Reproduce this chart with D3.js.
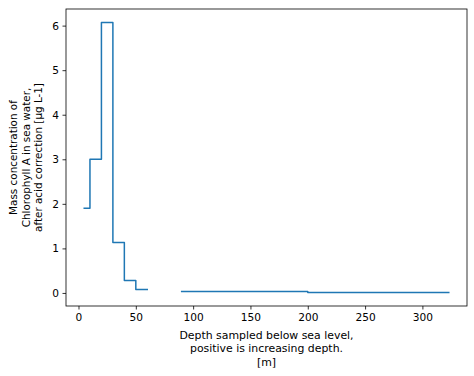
<!DOCTYPE html>
<html>
<head>
<meta charset="utf-8">
<script src="https://cdn.jsdelivr.net/npm/d3@7"></script>
<style>
  body { margin: 0; background: #fff; }
  text { font-family: "DejaVu Sans", sans-serif; fill: #000; }
</style>
</head>
<body>
<svg width="474" height="376"></svg>
<script>
// глубина отбора проб, м
const depth = [5, 10, 20, 30, 40, 50, 60, 90, 200, 323];
// хлорофилл A, мкг/л (null - нет данных)
const chl = [1.9, 3.0, 6.07, 1.13, 0.28, 0.08, null, 0.03, 0.01, 0.01];

const xTicks = [0, 50, 100, 150, 200, 250, 300];
const yTicks = [0, 1, 2, 3, 4, 5, 6];

const xLabel = ["Depth sampled below sea level,", "positive is increasing depth.", "[m]"];
const yLabel = ["Mass concentration of", "Chlorophyll A in sea water,", "after acid correction [µg L-1]"];

const svg = d3.select("svg");
const mLeft = 66, mRight = 467, mTop = 9, mBottom = 306;

// поля как в matplotlib: 5% от диапазона
const xr = d3.max(depth) - d3.min(depth);
const yr = d3.max(chl) - d3.min(chl);
const x = d3.scaleLinear()
    .domain([d3.min(depth) - 0.05 * xr, d3.max(depth) + 0.05 * xr])
    .range([mLeft, mRight]);
const y = d3.scaleLinear()
    .domain([d3.min(chl) - 0.05 * yr, d3.max(chl) + 0.05 * yr])
    .range([mBottom, mTop]);

// ступеньки "steps-post": горизонталь от depth[i] до depth[i+1] на уровне chl[i]
let steps = [];
for (let i = 0; i < depth.length - 1; i++) {
    steps.push({x: depth[i], y: chl[i]});
    steps.push({x: depth[i + 1], y: chl[i]});
}

const line = d3.line()
    .defined(d => d.y !== null)
    .x(d => x(d.x))
    .y(d => y(d.y));

svg.append("path")
    .attr("d", line(steps))
    .attr("fill", "none")
    .attr("stroke", "#1f77b4")
    .attr("stroke-width", 1.5)
    .attr("stroke-linecap", "square")
    .attr("stroke-linejoin", "round");

const xAxis = svg.append("g")
    .attr("transform", `translate(0,${mBottom})`)
    .call(d3.axisBottom(x).tickValues(xTicks).tickSize(3.5).tickPadding(3.5).tickFormat(d3.format("d")));
const yAxis = svg.append("g")
    .attr("transform", `translate(${mLeft},0)`)
    .call(d3.axisLeft(y).tickValues(yTicks).tickSize(3.5).tickPadding(3.5).tickFormat(d3.format("d")));

[xAxis, yAxis].forEach(g => {
    g.select(".domain").remove();
    g.selectAll("text").style("font-size", "10.6px").style("font-family", "DejaVu Sans");
    g.selectAll("line").attr("stroke", "#000").attr("stroke-width", 0.8);
});

// рамка
svg.append("rect")
    .attr("x", mLeft).attr("y", mTop)
    .attr("width", mRight - mLeft).attr("height", mBottom - mTop)
    .attr("fill", "none").attr("stroke", "#000").attr("stroke-width", 0.8);

svg.append("text")
    .attr("text-anchor", "middle")
    .style("font-size", "10.9px")
    .selectAll("tspan").data(xLabel).join("tspan")
    .attr("x", (mLeft + mRight) / 2)
    .attr("y", (d, i) => 339 + i * 13.3)
    .text(d => d);

svg.append("text")
    .attr("text-anchor", "middle")
    .attr("transform", `translate(0,${(mTop + mBottom) / 2}) rotate(-90)`)
    .style("font-size", "10.4px")
    .selectAll("tspan").data(yLabel).join("tspan")
    .attr("x", 0)
    .attr("y", (d, i) => 17 + i * 12.5)
    .text(d => d);
</script>
</body>
</html>
